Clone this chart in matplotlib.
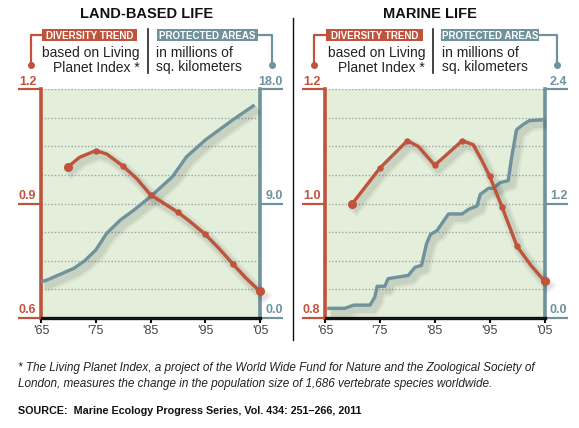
import matplotlib
matplotlib.use("Agg")
import matplotlib.pyplot as plt
import matplotlib.patheffects as pe
from matplotlib.lines import Line2D
from matplotlib.patches import Rectangle

plt.rcParams['font.family'] = ['Liberation Sans', 'DejaVu Sans']

# ---------------- data ----------------
land_div_years = [1970, 1972, 1975, 1977, 1980, 1982.5, 1985, 1987.5, 1990, 1992, 1995, 1997.5, 2000, 2002.5, 2005]
land_div_vals = [0.997, 1.021, 1.039, 1.030, 0.998, 0.965, 0.923, 0.900, 0.877, 0.855, 0.819, 0.782, 0.742, 0.703, 0.669]
land_marker_years = [1970, 1975, 1980, 1985, 1990, 1995, 2000, 2005]
land_marker_vals = [0.997, 1.039, 0.998, 0.923, 0.877, 0.819, 0.742, 0.669]

land_area_years = [1965, 1966, 1971, 1973, 1975, 1977, 1979.5, 1982, 1985, 1989, 1991.6, 1995, 2000, 2004]
land_area_vals = [2.85, 2.95, 3.89, 4.49, 5.33, 6.65, 7.70, 8.49, 9.54, 11.11, 12.69, 14.0, 15.58, 16.76]

marine_div_years = [1970, 1975, 1980, 1982, 1985, 1990, 1992, 1993.5, 1995, 1997.3, 2000, 2002.5, 2005]
marine_div_vals = [1.000, 1.062, 1.110, 1.100, 1.067, 1.110, 1.103, 1.077, 1.048, 0.993, 0.925, 0.892, 0.864]
marine_marker_years = [1970, 1975, 1980, 1985, 1990, 1995, 1997.3, 2000, 2005]
marine_marker_vals = [1.000, 1.062, 1.110, 1.067, 1.110, 1.048, 0.993, 0.925, 0.864]

marine_area_years = [1965.4, 1968.6, 1970.2, 1973.2, 1974.1, 1974.5, 1975.9, 1976.5, 1980.2, 1981.4, 1982.6,
                     1983.5, 1984.2, 1985.4, 1987.5, 1990.0, 1991.2, 1992.7, 1993.3, 1994.8, 1995.7, 1996.9,
                     1998.4, 1999.0, 1999.9, 2001.1, 2002.2, 2004.7]
marine_area_vals = [0.098, 0.098, 0.132, 0.132, 0.219, 0.330, 0.330, 0.410, 0.445, 0.530, 0.550,
                    0.776, 0.873, 0.915, 1.090, 1.090, 1.140, 1.175, 1.297, 1.360, 1.360, 1.420,
                    1.440, 1.680, 1.975, 2.030, 2.070, 2.080]

x_ticks = [1965, 1975, 1985, 1995, 2005]
x_labels = ["'65", "'75", "'85", "'95", "'05"]

panels = [
    dict(title="LAND-BASED LIFE", red_lim=(0.6, 1.2), red_ticks=[0.6, 0.9, 1.2], red_labels=["0.6", "0.9", "1.2"],
         blue_lim=(0, 18), blue_ticks=[0, 9, 18], blue_labels=["0.0", "9.0", "18.0"],
         div=(land_div_years, land_div_vals), mk=(land_marker_years, land_marker_vals),
         area=(land_area_years, land_area_vals)),
    dict(title="MARINE LIFE", red_lim=(0.8, 1.2), red_ticks=[0.8, 1.0, 1.2], red_labels=["0.8", "1.0", "1.2"],
         blue_lim=(0, 2.4), blue_ticks=[0, 1.2, 2.4], blue_labels=["0.0", "1.2", "2.4"],
         div=(marine_div_years, marine_div_vals), mk=(marine_marker_years, marine_marker_vals),
         area=(marine_area_years, marine_area_vals)),
]

RED = '#c0533b'
BLUE = '#6f929c'
BG = '#e4efdb'
W, H = 579, 428

fig = plt.figure(figsize=(W / 100, H / 100), dpi=100)


def fx(x):
    return x / W


def fy(y):
    return 1 - y / H


shadow = [pe.SimpleLineShadow(offset=(2.5, -3), shadow_color='k', alpha=0.05, linewidth=9),
          pe.SimpleLineShadow(offset=(2.5, -3), shadow_color='k', alpha=0.07, linewidth=5.5),
          pe.Normal()]

geo = [
    dict(x0=41, x1=260, bl=30.5, br=272, rbox=(42, 137), bbox=(157, 258), sep=148, tc=147),
    dict(x0=325, x1=544.5, bl=313.5, br=556.5, rbox=(326, 423), bbox=(441, 539), sep=433, tc=430),
]
TOP, BOT = 89.3, 317.7

for p, g in zip(panels, geo):
    ax = fig.add_axes([fx(g['x0']), fy(BOT), fx(g['x1'] - g['x0']), (BOT - TOP) / H])
    ax2 = ax.twinx()
    ax.set_facecolor(BG)
    ax2.set_facecolor('none')
    ax.set_xlim(1965, 2005)
    ax.set_ylim(*p['blue_lim'])
    ax2.set_ylim(*p['red_lim'])

    lo, hi = p['blue_lim']
    step = (hi - lo) / 8
    for i in range(1, 9):
        ax.axhline(lo + i * step, color='#a0a4a0', lw=1.0, ls=(0, (1, 1.4)), zorder=0.5)

    ax.spines['top'].set_visible(False)
    ax.spines['left'].set_color(RED)
    ax.spines['left'].set_linewidth(2.6)
    ax.spines['right'].set_color(BLUE)
    ax.spines['right'].set_linewidth(2.6)
    ax.spines['bottom'].set_color('#111111')
    ax.spines['bottom'].set_linewidth(2.4)
    for s in ax2.spines.values():
        s.set_visible(False)

    ax.set_xticks(x_ticks)
    ax.set_xticklabels(x_labels, fontsize=9, color='#444444')
    ax.tick_params(axis='x', length=3.5, width=1.5, color='#111111', pad=2)
    ax2.tick_params(axis='x', bottom=False, labelbottom=False)

    ax.yaxis.tick_right()
    ax.set_yticks(p['blue_ticks'])
    ax.tick_params(axis='y', length=16.6, width=1.6, color=BLUE, labelright=False, labelleft=False,
                   left=False, right=True)
    ax2.yaxis.tick_left()
    ax2.set_yticks(p['red_ticks'])
    ax2.tick_params(axis='y', length=16.6, width=1.6, color=RED, labelleft=False, labelright=False,
                    left=True, right=False)

    for v, lab in zip(p['red_ticks'], p['red_labels']):
        ax2.annotate(lab, xy=(0, v), xycoords=ax2.get_yaxis_transform(), xytext=(-16.0, 3.2),
                     textcoords='offset points', ha='left', va='baseline', fontsize=9,
                     fontweight='bold', color=RED, annotation_clip=False)
    for v, lab in zip(p['blue_ticks'], p['blue_labels']):
        ax.annotate(lab, xy=(1, v), xycoords=ax.get_yaxis_transform(), xytext=(16.3, 3.2),
                    textcoords='offset points', ha='right', va='baseline', fontsize=9,
                    fontweight='bold', color=BLUE, annotation_clip=False)

    ax.plot(p['area'][0], p['area'][1], color=BLUE, lw=2.4, solid_capstyle='butt',
            solid_joinstyle='round', path_effects=shadow, zorder=3, clip_on=False)
    ax2.plot(p['div'][0], p['div'][1], color=RED, lw=2.4, solid_joinstyle='round',
             path_effects=shadow, zorder=4, clip_on=False)
    ax2.plot(p['mk'][0][1:-1], p['mk'][1][1:-1], 'o', color=RED, ms=3.6, zorder=5, clip_on=False)
    ax2.plot([p['mk'][0][0], p['mk'][0][-1]], [p['mk'][1][0], p['mk'][1][-1]], 'o', color=RED,
             ms=5.5, zorder=5, clip_on=False)

    fig.text(fx(g['tc']), fy(18.5), p['title'], ha='center', va='baseline', fontsize=10.5,
             fontweight='bold', color='#111111')
    ry0, ry1 = 29.5, 41.0
    fig.add_artist(Rectangle((fx(g['rbox'][0]), fy(ry1)), fx(g['rbox'][1] - g['rbox'][0]), (ry1 - ry0) / H,
                             transform=fig.transFigure, facecolor=RED, edgecolor='none'))
    fig.add_artist(Rectangle((fx(g['bbox'][0]), fy(ry1)), fx(g['bbox'][1] - g['bbox'][0]), (ry1 - ry0) / H,
                             transform=fig.transFigure, facecolor=BLUE, edgecolor='none'))
    fig.text(fx((g['rbox'][0] + g['rbox'][1]) / 2), fy((ry0 + ry1) / 2 + 0.3), "DIVERSITY TREND",
             ha='center', va='center', fontsize=7, fontweight='bold', color='white')
    fig.text(fx((g['bbox'][0] + g['bbox'][1]) / 2), fy((ry0 + ry1) / 2 + 0.3), "PROTECTED AREAS",
             ha='center', va='center', fontsize=7, fontweight='bold', color='white')
    by = 35.3
    fig.add_artist(Line2D([fx(g['rbox'][0]), fx(g['bl']), fx(g['bl'])], [fy(by), fy(by), fy(64)],
                          transform=fig.transFigure, color=RED, lw=1.6))
    fig.add_artist(Line2D([fx(g['bbox'][1]), fx(g['br']), fx(g['br'])], [fy(by), fy(by), fy(64)],
                          transform=fig.transFigure, color=BLUE, lw=1.6))
    fig.add_artist(Line2D([fx(g['bl'])], [fy(64.5)], transform=fig.transFigure, marker='o', ms=4,
                          color=RED, lw=0))
    fig.add_artist(Line2D([fx(g['br'])], [fy(64.5)], transform=fig.transFigure, marker='o', ms=4,
                          color=BLUE, lw=0))
    fig.add_artist(Line2D([fx(g['sep']), fx(g['sep'])], [fy(29), fy(73)], transform=fig.transFigure,
                          color='#222222', lw=1.2))
    fig.text(fx(g['sep'] - 8), fy(57), "based on Living", ha='right', va='baseline', fontsize=10,
             color='#222222')
    fig.text(fx(g['sep'] - 8), fy(72.5), "Planet Index *", ha='right', va='baseline', fontsize=10,
             color='#222222')
    fig.text(fx(g['sep'] + 8.5), fy(57), "in millions of", ha='left', va='baseline', fontsize=10,
             color='#222222')
    fig.text(fx(g['sep'] + 8.5), fy(71.5), "sq. kilometers", ha='left', va='baseline', fontsize=10,
             color='#222222')

fig.add_artist(Line2D([fx(293), fx(293)], [fy(18), fy(340)], transform=fig.transFigure, color='#111111', lw=1.0))

fig.text(fx(18), fy(368), "* The Living Planet Index, a project of the World Wide Fund for Nature and the Zoological Society of",
         ha='left', va='center', fontsize=8.5, style='italic', color='#222222')
fig.text(fx(18), fy(384), "London, measures the change in the population size of 1,686 vertebrate species worldwide.",
         ha='left', va='center', fontsize=8.5, style='italic', color='#222222')
fig.text(fx(18), fy(411), "SOURCE:  Marine Ecology Progress Series, Vol. 434: 251\u2013266, 2011",
         ha='left', va='center', fontsize=7.75, fontweight='bold', color='#111111')

fig.savefig("out.png", dpi=100)
